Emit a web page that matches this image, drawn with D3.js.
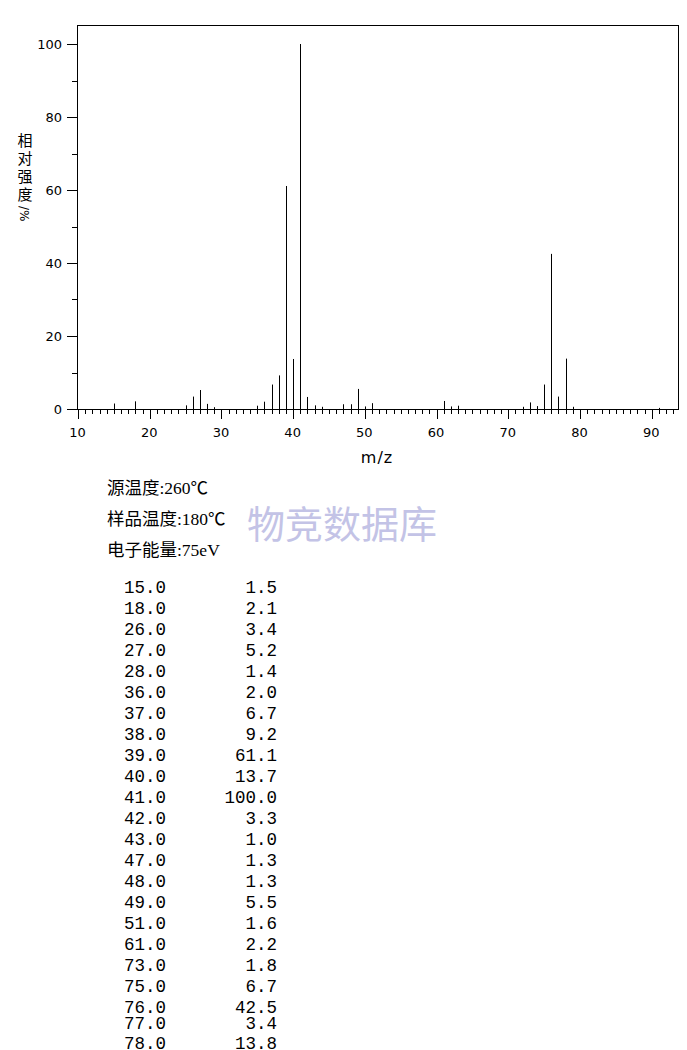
<!DOCTYPE html>
<html><head><meta charset="utf-8">
<script src="https://cdn.jsdelivr.net/npm/d3@7/dist/d3.min.js"></script>
<style>body{margin:0;background:#fff}svg{display:block}</style>
</head><body>
<svg id="c" width="687" height="1050"></svg>
<script>
// Listed peaks (m/z, relative intensity %)
const mzList = [15,18,26,27,28,36,37,38,39,40,41,42,43,47,48,49,51,61,73,75,76,77,78];
const intList = [1.5,2.1,3.4,5.2,1.4,2.0,6.7,9.2,61.1,13.7,100.0,3.3,1.0,1.3,1.3,5.5,1.6,2.2,1.8,6.7,42.5,3.4,13.8];
// Small unlisted peaks visible in the spectrum (estimated)
const minorMz = [25,29,35,44,50,62,63,72,74,79,91];
const minorInt = [1.0,0.5,0.9,0.6,0.7,0.7,0.9,0.6,0.8,0.6,0.3];
const xTicks = [10,20,30,40,50,60,70,80,90];
const yTicks = [0,20,40,60,80,100];
const infoLines = ["源温度:260℃","样品温度:180℃","电子能量:75eV"];
const yLabel = ["相","对","强","度"];

const svg = d3.select("#c");
const x = d3.scaleLinear().domain([10, 90]).range([78, 651.7]);
const y = d3.scaleLinear().domain([0, 100]).range([409, 44]);
const px = v => Math.round(x(v)) + 0.5;
const py = v => Math.round(y(v)) + 0.5;
const frameTop = 25;

// frame
svg.append("rect").attr("x",77.5).attr("y",frameTop+0.5).attr("width",678-77).attr("height",409-frameTop)
  .attr("fill","none").attr("stroke","#000").attr("stroke-width",1);

// x ticks
const minorX = d3.range(11, 94).filter(v => v % 10 !== 0);
svg.append("g").selectAll("line").data(minorX).join("line")
  .attr("x1",px).attr("x2",px).attr("y1",409).attr("y2",414)
  .attr("stroke","#000");
svg.append("g").selectAll("line").data(xTicks).join("line")
  .attr("x1",px).attr("x2",px).attr("y1",409).attr("y2",419)
  .attr("stroke","#000");
svg.append("g").selectAll("text").data(xTicks).join("text")
  .attr("x",d=>x(d)-0.5).attr("y",437).attr("text-anchor","middle")
  .attr("font-family","DejaVu Sans").attr("font-size",13).text(d=>d);

// y ticks
const minorY = [10,30,50,70,90];
svg.append("g").selectAll("line").data(minorY).join("line")
  .attr("x1",72).attr("x2",77).attr("y1",py).attr("y2",py)
  .attr("stroke","#000");
svg.append("g").selectAll("line").data(yTicks).join("line")
  .attr("x1",67).attr("x2",77).attr("y1",py).attr("y2",py)
  .attr("stroke","#000");
svg.append("g").selectAll("text").data(yTicks).join("text")
  .attr("x",62).attr("y",d=>y(d)+5).attr("text-anchor","end")
  .attr("font-family","DejaVu Sans").attr("font-size",13).text(d=>d);

// peaks
const peaks = mzList.map((m,i)=>({m, v:intList[i]})).concat(minorMz.map((m,i)=>({m, v:minorInt[i]})));
svg.append("g").selectAll("line").data(peaks).join("line")
  .attr("x1",d=>px(d.m)).attr("x2",d=>px(d.m)).attr("y1",y(0)).attr("y2",d=>y(d.v))
  .attr("stroke","#000").attr("stroke-width",1);

// axis titles
svg.append("text").attr("x",377).attr("y",463).attr("text-anchor","middle")
  .attr("font-family","DejaVu Sans").attr("font-size",16).attr("letter-spacing",1).text("m/z");
const yl = svg.append("g");
yl.selectAll("text").data(yLabel).join("text")
  .attr("x",25).attr("y",(d,i)=>146 + i*18).attr("text-anchor","middle")
  .attr("font-family","Noto Sans CJK SC").attr("font-size",15).text(d=>d);
yl.append("text").attr("transform","translate(20,206) rotate(90)")
  .attr("font-family","DejaVu Sans").attr("font-size",12).text("/%");

// info lines
svg.append("g").selectAll("text").data(infoLines).join("text")
  .attr("x",107).attr("y",(d,i)=>494 + i*31)
  .attr("font-family","Liberation Serif, Noto Sans CJK SC").attr("font-size",17.5).text(d=>d);

// watermark
svg.append("text").attr("x",247).attr("y",538)
  .attr("font-family","Noto Sans CJK SC").attr("font-size",38).attr("fill","#c3c3e6")
  .text("物竞数据库");

// table
let yy = 592.5;
const rowY = mzList.map((m,i)=>{ if(i===0) return yy; yy += (i===21 ? 16 : (i===22 ? 20.5 : 21)); return yy; });
const tbl = svg.append("g").attr("font-family","Liberation Mono").attr("font-size",17.5);
tbl.selectAll("text.a").data(mzList).join("text").attr("class","a")
  .attr("x",166).attr("y",(d,i)=>rowY[i]).attr("text-anchor","end").text(d=>d.toFixed(1));
tbl.selectAll("text.b").data(intList).join("text").attr("class","b")
  .attr("x",277).attr("y",(d,i)=>rowY[i]).attr("text-anchor","end").text(d=>d.toFixed(1));
</script>
</body></html>
